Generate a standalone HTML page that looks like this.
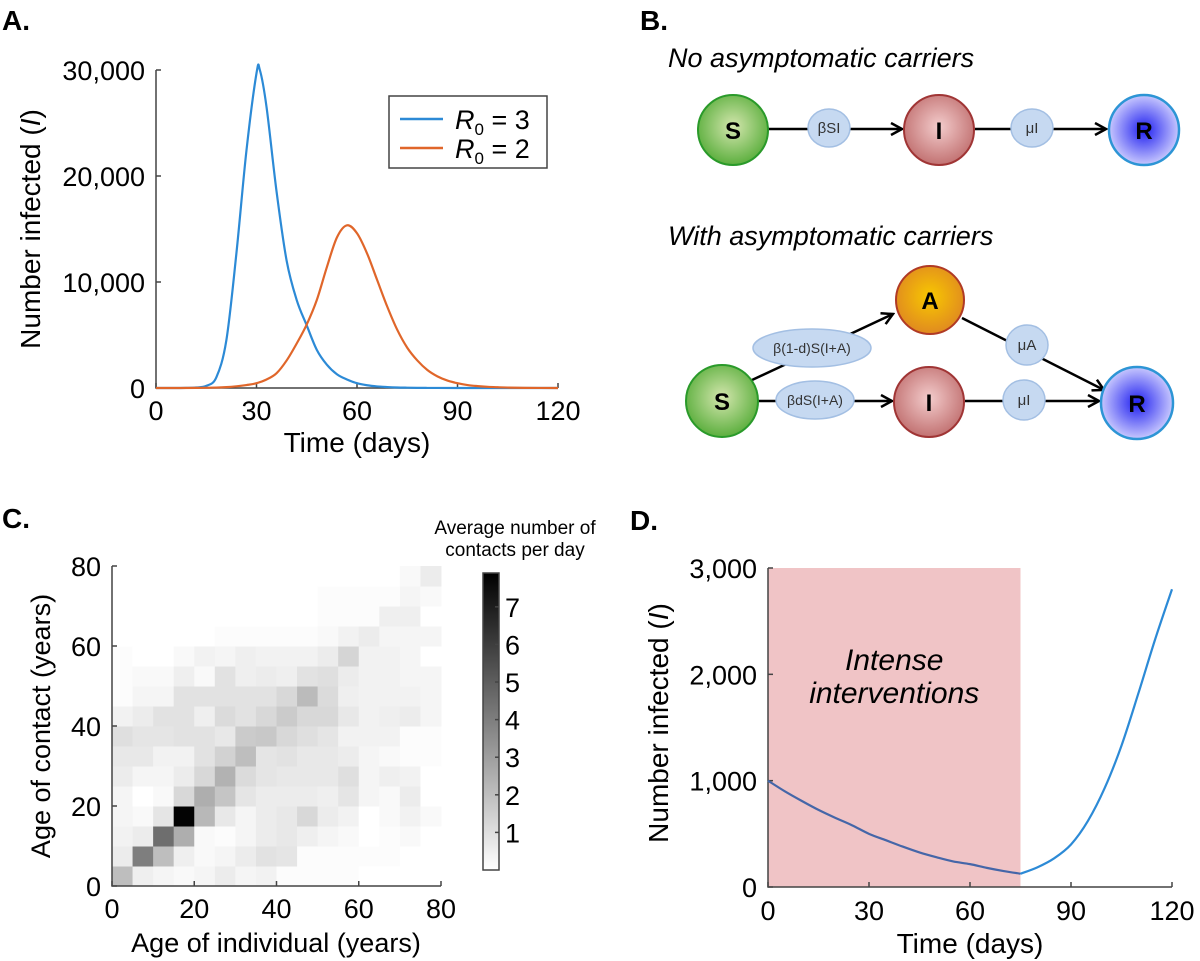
<!DOCTYPE html>
<html><head><meta charset="utf-8"><style>
html,body{margin:0;padding:0;background:#fff;}
svg{display:block;font-family:"Liberation Sans",sans-serif;}
</style></head><body>
<svg id="fig" width="1200" height="961" viewBox="0 0 1200 961">
<defs>
<radialGradient id="gS" cx="50%" cy="45%" r="55%"><stop offset="0" stop-color="#d4e6ae"/><stop offset="1" stop-color="#5caf3e"/></radialGradient>
<radialGradient id="gI" cx="50%" cy="45%" r="55%"><stop offset="0" stop-color="#f3cccc"/><stop offset="1" stop-color="#c27272"/></radialGradient>
<radialGradient id="gR" cx="50%" cy="50%" r="55%"><stop offset="0" stop-color="#2020f0"/><stop offset="1" stop-color="#d8d8ff"/></radialGradient>
<radialGradient id="gA" cx="50%" cy="45%" r="55%"><stop offset="0" stop-color="#f8c800"/><stop offset="1" stop-color="#e08a20"/></radialGradient>
<linearGradient id="gBar" x1="0" y1="1" x2="0" y2="0"><stop offset="0" stop-color="#fff"/><stop offset="1" stop-color="#000"/></linearGradient>
<marker id="arr" markerWidth="14" markerHeight="14" refX="12" refY="7" orient="auto" markerUnits="userSpaceOnUse"><path d="M1,1 L12,7 L1,13" fill="none" stroke="#000" stroke-width="2.5"/></marker>
</defs>

<text x="2" y="30" font-size="28" font-weight="bold">A.</text>
<text x="640" y="30" font-size="28" font-weight="bold">B.</text>
<text x="2" y="528" font-size="28" font-weight="bold">C.</text>
<text x="630" y="530" font-size="28" font-weight="bold">D.</text>

<g id="panelA"></g>
<g id="panelB">
  <text x="668" y="67" font-size="27" font-style="italic">No asymptomatic carriers</text>
  <text x="668" y="245" font-size="27" font-style="italic">With asymptomatic carriers</text>
  <line x1="768" y1="129" x2="902" y2="129" stroke="#000" stroke-width="2.5" marker-end="url(#arr)"/>
  <line x1="975" y1="129" x2="1106" y2="129" stroke="#000" stroke-width="2.5" marker-end="url(#arr)"/>
  <ellipse cx="829" cy="128" rx="21" ry="19" fill="#c6d9f1" stroke="#a3bfe3" stroke-width="1.5"/>
  <text x="829" y="133" font-size="15" text-anchor="middle" fill="#333">βSI</text>
  <ellipse cx="1032" cy="128" rx="21" ry="19" fill="#c6d9f1" stroke="#a3bfe3" stroke-width="1.5"/>
  <text x="1032" y="133" font-size="15" text-anchor="middle" fill="#333">μI</text>
  <circle cx="733" cy="130" r="35" fill="url(#gS)" stroke="#2a9a2a" stroke-width="2"/>
  <text x="733" y="139" font-size="24" font-weight="bold" text-anchor="middle">S</text>
  <circle cx="939" cy="130" r="35" fill="url(#gI)" stroke="#a03535" stroke-width="2"/>
  <text x="939" y="139" font-size="24" font-weight="bold" text-anchor="middle">I</text>
  <circle cx="1144" cy="130" r="35" fill="url(#gR)" stroke="#2d95d5" stroke-width="2.5"/>
  <text x="1144" y="139" font-size="24" font-weight="bold" text-anchor="middle">R</text>
  <line x1="752" y1="380" x2="893" y2="314" stroke="#000" stroke-width="2.5" marker-end="url(#arr)"/>
  <line x1="962" y1="318" x2="1104" y2="390" stroke="#000" stroke-width="2.5" marker-end="url(#arr)"/>
  <line x1="758" y1="401" x2="892" y2="401" stroke="#000" stroke-width="2.5" marker-end="url(#arr)"/>
  <line x1="965" y1="401" x2="1099" y2="401" stroke="#000" stroke-width="2.5" marker-end="url(#arr)"/>
  <ellipse cx="812" cy="348" rx="59" ry="19" fill="#c6d9f1" stroke="#a3bfe3" stroke-width="1.5"/>
  <text x="812" y="353" font-size="14" text-anchor="middle" fill="#333">β(1-d)S(I+A)</text>
  <ellipse cx="815" cy="400" rx="39" ry="19" fill="#c6d9f1" stroke="#a3bfe3" stroke-width="1.5"/>
  <text x="815" y="405" font-size="14" text-anchor="middle" fill="#333">βdS(I+A)</text>
  <ellipse cx="1027" cy="345" rx="21" ry="20" fill="#c6d9f1" stroke="#a3bfe3" stroke-width="1.5"/>
  <text x="1027" y="350" font-size="15" text-anchor="middle" fill="#333">μA</text>
  <ellipse cx="1024" cy="400" rx="21" ry="20" fill="#c6d9f1" stroke="#a3bfe3" stroke-width="1.5"/>
  <text x="1024" y="405" font-size="15" text-anchor="middle" fill="#333">μI</text>
  <circle cx="930" cy="300" r="34" fill="url(#gA)" stroke="#b03a25" stroke-width="2"/>
  <text x="930" y="309" font-size="24" font-weight="bold" text-anchor="middle">A</text>
  <circle cx="722" cy="401" r="36" fill="url(#gS)" stroke="#2a9a2a" stroke-width="2"/>
  <text x="722" y="410" font-size="24" font-weight="bold" text-anchor="middle">S</text>
  <circle cx="929" cy="402" r="35" fill="url(#gI)" stroke="#a03535" stroke-width="2"/>
  <text x="929" y="411" font-size="24" font-weight="bold" text-anchor="middle">I</text>
  <circle cx="1137" cy="403" r="36" fill="url(#gR)" stroke="#2d95d5" stroke-width="2.5"/>
  <text x="1137" y="412" font-size="24" font-weight="bold" text-anchor="middle">R</text>
</g>
<g id="panelC"></g>
<g id="panelD"></g>
</svg>
<script>
const aDaysBlue = [0,3,6,9,12,15,18,21,24,27,30,31,33,36,39,42,45,48,51,54,57,60,63,66,69,72,75,78,81,84,90,100,120];
const aValsBlue = [0,0,0,10,50,200,1000,4500,12700,22400,29700,30000,26500,18500,12000,8300,5900,3600,2200,1300,800,450,260,150,90,50,30,15,8,4,1,0,0];
const aDaysOrange = [0,6,12,18,21,24,27,30,33,36,39,42,45,48,51,54,57,60,63,66,69,72,75,78,81,84,87,90,93,96,99,102,105,110,120];
const aValsOrange = [0,2,10,40,80,160,280,450,800,1400,2600,4200,6000,8300,11400,14200,15350,14600,12700,10200,7700,5500,3800,2600,1700,1100,700,450,280,180,110,70,40,15,3];
const aXTicks = [0,30,60,90,120];
const aYTicks = [0,10000,20000,30000];
const aYTickLabels = ["0","10,000","20,000","30,000"];
const aLegend = ["3","2"];
const cTicks = [0,20,40,60,80];
const cBarTicks = [1,2,3,4,5,6,7];
const cRow0  = [2.0,0.5,0.3,0.2,0.3,0.6,0.3,0.4,0.1,0.1,0.1,0.1,0,0,0,0];
const cRow1  = [0.6,4.0,2.0,0.5,0.2,0.3,0.6,0.9,0.8,0.1,0.1,0.1,0.1,0.1,0,0];
const cRow2  = [0.4,0.6,4.5,2.5,0.2,0.1,0.3,0.6,0.7,0.5,0.3,0.2,0,0.1,0.2,0];
const cRow3  = [0.3,0.2,0.8,7.8,2.2,0.7,0.3,0.6,0.7,1.2,0.6,0.4,0,0.2,0.4,0.2];
const cRow4  = [0.3,0,0.2,1.2,2.5,1.8,0.8,0.6,0.6,0.6,0.5,0.8,0.3,0.2,0.6,0];
const cRow5  = [0.6,0.3,0.3,0.6,1.2,2.4,1.1,0.8,0.7,0.7,0.7,1.0,0.3,0.5,0.4,0];
const cRow6  = [0.7,0.7,0.4,0.4,0.9,1.4,2.0,0.8,0.9,0.7,0.7,0.6,0.3,0.2,0.1,0.1];
const cRow7  = [1.0,0.8,0.8,0.9,0.9,0.7,1.6,1.7,1.2,1.0,0.8,0.4,0.4,0.4,0.1,0.1];
const cRow8  = [0.4,0.6,0.9,0.9,0.5,1.1,0.9,1.2,1.6,1.2,1.2,0.7,0.4,0.5,0.6,0.3];
const cRow9  = [0.1,0.3,0.3,0.9,0.9,0.9,0.9,0.9,1.2,2.1,1.1,0.5,0.4,0.4,0.4,0.3];
const cRow10 = [0.1,0.2,0.2,0.5,0.2,0.9,0.5,0.6,0.5,0.9,1.0,0.6,0.4,0.4,0.3,0.3];
const cRow11 = [0.1,0,0,0.2,0.4,0.3,0.5,0.4,0.4,0.4,0.6,1.3,0.4,0.4,0.3,0];
const cRow12 = [0,0,0,0,0,0.1,0.1,0.1,0.1,0.1,0.2,0.4,0.6,0.3,0.3,0.3];
const cRow13 = [0,0,0,0,0,0,0,0,0,0,0.1,0.1,0.1,0.5,0.5,0];
const cRow14 = [0,0,0,0,0,0,0,0,0,0,0.1,0.1,0.1,0.1,0.3,0.2];
const cRow15 = [0,0,0,0,0,0,0,0,0,0,0,0,0,0,0.2,0.6];
const cMatrix = [cRow0,cRow1,cRow2,cRow3,cRow4,cRow5,cRow6,cRow7,cRow8,cRow9,cRow10,cRow11,cRow12,cRow13,cRow14,cRow15];
const dDays = [0,5,10,15,20,25,30,35,40,45,50,55,60,65,70,75,80,85,90,95,100,105,110,115,120];
const dVals = [1000,900,810,725,650,580,500,440,380,325,280,240,215,180,150,125,185,270,400,620,930,1330,1820,2330,2800];
const dXTicks = [0,30,60,90,120];
const dYTicks = [0,1000,2000,3000];
const dYTickLabels = ["0","1,000","2,000","3,000"];
const dShadeEnd = 75;

const NS = "http://www.w3.org/2000/svg";
function mk(parent, tag, attrs, text){
  const e = document.createElementNS(NS, tag);
  for (const k in attrs) e.setAttribute(k, attrs[k]);
  if (text !== undefined) e.textContent = text;
  parent.appendChild(e);
  return e;
}
function smooth(pts){
  if (pts.length < 2) return '';
  let d = `M${pts[0][0]},${pts[0][1]}`;
  for (let i=0;i<pts.length-1;i++){
    const p0 = pts[Math.max(0,i-1)], p1 = pts[i], p2 = pts[i+1], p3 = pts[Math.min(pts.length-1,i+2)];
    const c1x = p1[0] + (p2[0]-p0[0])/6, c1y = p1[1] + (p2[1]-p0[1])/6;
    const c2x = p2[0] - (p3[0]-p1[0])/6, c2y = p2[1] - (p3[1]-p1[1])/6;
    d += ` C${c1x},${c1y} ${c2x},${c2y} ${p2[0]},${p2[1]}`;
  }
  return d;
}

(function(){
  const g = document.getElementById('panelA');
  const x0=156,x1=558,y0=388,y1=70;
  const sx = d => x0 + d/120*(x1-x0);
  const sy = v => y0 - v/30000*(y0-y1);
  const ax = mk(g,'path',{d:`M${x0},${y1} L${x0},${y0} L${x1},${y0}`,fill:'none',stroke:'#444','stroke-width':1.5});
  
  
  aXTicks.forEach(t=>{
    mk(g,'line',{x1:sx(t),x2:sx(t),y1:y0,y2:y0-5,stroke:'#444','stroke-width':1.5});
    const l = mk(g,'text',{x:sx(t),y:420,'font-size':27,'text-anchor':'middle'},String(t));
    
    
  });
  aYTicks.forEach((t,i)=>{
    mk(g,'line',{x1:x0,x2:x0+5,y1:sy(t),y2:sy(t),stroke:'#444','stroke-width':1.5});
    const l = mk(g,'text',{x:145,y:sy(t)+10,'font-size':27,'text-anchor':'end'},aYTickLabels[i]);
    
    
  });
  const bl = mk(g,'path',{d:smooth(aDaysBlue.map((d,i)=>[sx(d),Math.min(y0,sy(aValsBlue[i]))])),fill:'none',stroke:'#2c8ad6','stroke-width':2.2});
  
  
  const ol = mk(g,'path',{d:smooth(aDaysOrange.map((d,i)=>[sx(d),sy(aValsOrange[i])])),fill:'none',stroke:'#e0662a','stroke-width':2.2});
  
  
  const xt = mk(g,'text',{x:357,y:452,'font-size':28,'text-anchor':'middle'},'Time (days)');
  
  
  const yt = mk(g,'text',{x:0,y:0,'font-size':28,'text-anchor':'middle',transform:'translate(40,229) rotate(-90)'});
  
  
  yt.innerHTML = 'Number infected (<tspan font-style="italic">I</tspan>)';
  const lg = mk(g,'g',{});
  
  
  mk(lg,'rect',{x:389,y:96,width:158,height:72,fill:'#fff',stroke:'#444','stroke-width':1.5});
  const cols=['#2c8ad6','#e0662a'];
  aLegend.forEach((v,i)=>{
    const y = 119 + i*29;
    mk(lg,'line',{x1:400,x2:443,y1:y,y2:y,stroke:cols[i],'stroke-width':2.5});
    const t = mk(lg,'text',{x:455,y:y+10,'font-size':27});
    
    
    t.innerHTML = '<tspan font-style="italic">R</tspan><tspan font-size="17" dy="6">0</tspan><tspan dy="-6"> = '+v+'</tspan>';
  });
})();

(function(){
  const g = document.getElementById('panelC');
  const x0=112,x1=441,y0=886,y1=566;
  const sx = a => x0 + a/80*(x1-x0);
  const sy = a => y0 - a/80*(y0-y1);
  const vmax = 7.9;
  cMatrix.forEach((row,r)=>{
    row.forEach((v,c)=>{
      const gv = Math.round(255*(1 - Math.min(v,vmax)/vmax));
      const cell = mk(g,'rect',{x:sx(c*5),y:sy((r+1)*5),width:sx(5)-sx(0)+0.5,height:sy(0)-sy(5)+0.5,fill:`rgb(${gv},${gv},${gv})`});
      
      
    });
  });
  const ax = mk(g,'path',{d:`M${x0},${y1} L${x0},${y0} L${x1},${y0}`,fill:'none',stroke:'#444','stroke-width':1.5});
  
  
  cTicks.forEach(t=>{
    mk(g,'line',{x1:sx(t),x2:sx(t),y1:y0,y2:y0-5,stroke:'#444','stroke-width':1.5});
    const l = mk(g,'text',{x:sx(t),y:918,'font-size':27,'text-anchor':'middle'},String(t));
    
    
    mk(g,'line',{x1:x0,x2:x0+5,y1:sy(t),y2:sy(t),stroke:'#444','stroke-width':1.5});
    const m = mk(g,'text',{x:101,y:sy(t)+10,'font-size':27,'text-anchor':'end'},String(t));
    
    
  });
  const xt = mk(g,'text',{x:276,y:952,'font-size':27,'text-anchor':'middle'},'Age of individual (years)');
  
  
  const yt = mk(g,'text',{x:0,y:0,'font-size':27,'text-anchor':'middle',transform:'translate(50,726) rotate(-90)'},'Age of contact (years)');
  
  
  const bx=483,bw=16,by0=870,by1=573;
  const cb = mk(g,'rect',{x:bx,y:by1,width:bw,height:by0-by1,fill:'url(#gBar)',stroke:'#444','stroke-width':1.5});
  
  
  const cy = v => by0 - v/vmax*(by0-by1);
  cBarTicks.forEach(t=>{
    mk(g,'line',{x1:bx+bw-4,x2:bx+bw,y1:cy(t),y2:cy(t),stroke:'#444','stroke-width':1.5});
    const l = mk(g,'text',{x:505,y:cy(t)+10,'font-size':27},String(t));
    
    
  });
  const t1 = mk(g,'text',{x:515,y:534,'font-size':19,'text-anchor':'middle'},'Average number of');
  
  
  const t2 = mk(g,'text',{x:515,y:556,'font-size':19,'text-anchor':'middle'},'contacts per day');
  
  
})();

(function(){
  const g = document.getElementById('panelD');
  const x0=768,x1=1172,y0=887,y1=568;
  const sx = d => x0 + d/120*(x1-x0);
  const sy = v => y0 - v/3000*(y0-y1);
  const sh = mk(g,'rect',{x:x0,y:y1,width:sx(dShadeEnd)-x0,height:y0-y1,fill:'#f0c4c6'});
  
  
  const t1 = mk(g,'text',{x:(x0+sx(dShadeEnd))/2,y:670,'font-size':30,'font-style':'italic','text-anchor':'middle'},'Intense');
  
  
  const t2 = mk(g,'text',{x:(x0+sx(dShadeEnd))/2,y:703,'font-size':30,'font-style':'italic','text-anchor':'middle'},'interventions');
  
  
  const ax = mk(g,'path',{d:`M${x0},${y1} L${x0},${y0} L${x1},${y0}`,fill:'none',stroke:'#444','stroke-width':1.5});
  
  
  dXTicks.forEach(t=>{
    mk(g,'line',{x1:sx(t),x2:sx(t),y1:y0,y2:y0-5,stroke:'#444','stroke-width':1.5});
    const l = mk(g,'text',{x:sx(t),y:920,'font-size':27,'text-anchor':'middle'},String(t));
    
    
  });
  dYTicks.forEach((t,i)=>{
    mk(g,'line',{x1:x0,x2:x0+5,y1:sy(t),y2:sy(t),stroke:'#444','stroke-width':1.5});
    const l = mk(g,'text',{x:757,y:sy(t)+10,'font-size':27,'text-anchor':'end'},dYTickLabels[i]);
    
    
  });
  const pre=[],post=[];
  dDays.forEach((d,i)=>{ const p=[sx(d),sy(dVals[i])]; if(d<=dShadeEnd) pre.push(p); if(d>=dShadeEnd) post.push(p); });
  const l1 = mk(g,'path',{d:smooth(pre),fill:'none',stroke:'#4566a8','stroke-width':2.2});
  
  
  const l2 = mk(g,'path',{d:smooth(post),fill:'none',stroke:'#2c8ad6','stroke-width':2.2});
  
  
  const xt = mk(g,'text',{x:970,y:953,'font-size':28,'text-anchor':'middle'},'Time (days)');
  
  
  const yt = mk(g,'text',{x:0,y:0,'font-size':28,'text-anchor':'middle',transform:'translate(668,723) rotate(-90)'});
  
  
  yt.innerHTML = 'Number infected (<tspan font-style="italic">I</tspan>)';
})();
</script>
</body></html>
